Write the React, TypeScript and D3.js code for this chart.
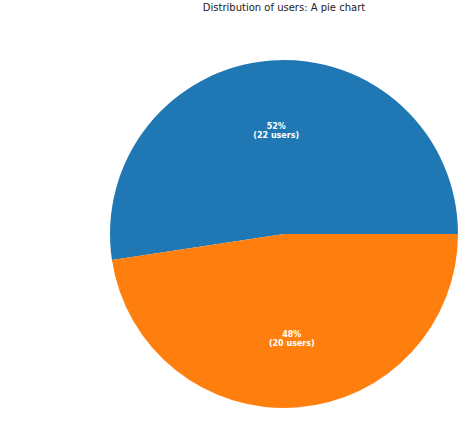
import * as d3 from "d3";

const CATEGORIES = ["Group A", "Group B"];
const USERS = [22, 20];
const COLORS = ["#1f77b4", "#ff7f0e"];
const TITLE = "Distribution of users: A pie chart";

const WIDTH = 474;
const HEIGHT = 427;
const CENTER = { x: 284, y: 234 };
const RADIUS = 174;

type Datum = { name: string; users: number; color: string };

export default function App() {
  const data: Datum[] = CATEGORIES.map((name, i) => ({
    name,
    users: USERS[i],
    color: COLORS[i],
  }));
  const total = d3.sum(USERS);

  // matplotlib style: start at 3 o'clock, go counter-clockwise
  const pie = d3
    .pie<Datum>()
    .value((d) => d.users)
    .sort(null)
    .startAngle(Math.PI / 2)
    .endAngle(Math.PI / 2 - 2 * Math.PI);
  const arcs = pie(data);

  const arc = d3.arc<d3.PieArcDatum<Datum>>().innerRadius(0).outerRadius(RADIUS);
  // labels sit at 0.6 of the radius
  const labelArc = d3
    .arc<d3.PieArcDatum<Datum>>()
    .innerRadius(RADIUS * 0.6)
    .outerRadius(RADIUS * 0.6);

  const pct = d3.format(".0%");

  return (
    <svg
      width={WIDTH}
      height={HEIGHT}
      style={{ position: "absolute", left: 0, top: 0, background: "#fff" }}
      fontFamily="DejaVu Sans, sans-serif"
    >
      <text x={CENTER.x} y={11} textAnchor="middle" fontSize={10} fill="#222">
        {TITLE}
      </text>
      <g transform={`translate(${CENTER.x},${CENTER.y})`}>
        {arcs.map((a) => (
          <path key={a.data.name} d={arc(a) ?? ""} fill={a.data.color} />
        ))}
        {arcs.map((a) => {
          const [x, y] = labelArc.centroid(a);
          return (
            <text
              key={"l" + a.data.name}
              x={x}
              y={y}
              textAnchor="middle"
              fontSize={8}
              fontWeight="bold"
              fill="#fff"
            >
              <tspan x={x} dy="-1.3">
                {pct(a.data.users / total)}
              </tspan>
              <tspan x={x} dy="9.5">
                ({a.data.users} users)
              </tspan>
            </text>
          );
        })}
      </g>
    </svg>
  );
}
